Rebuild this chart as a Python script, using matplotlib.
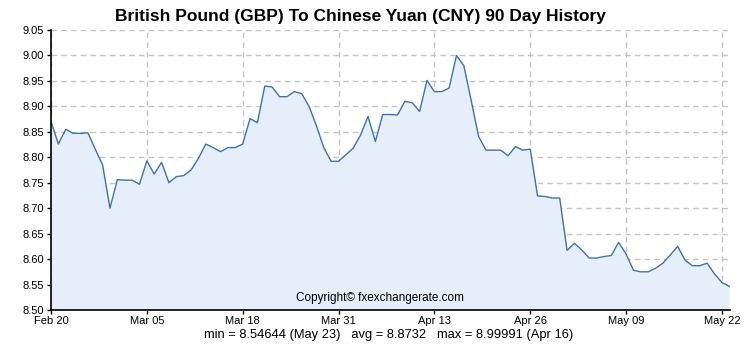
import matplotlib
matplotlib.use("Agg")
import matplotlib.pyplot as plt
import numpy as np

title = "British Pound (GBP) To Chinese Yuan (CNY) 90 Day History"
rates = [
    8.870, 8.826, 8.855, 8.847, 8.847, 8.848, 8.816, 8.785, 8.700, 8.756,
    8.755, 8.755, 8.747, 8.793, 8.767, 8.790, 8.750, 8.762, 8.764, 8.775,
    8.798, 8.826, 8.819, 8.811, 8.819, 8.819, 8.826, 8.876, 8.868, 8.940,
    8.938, 8.919, 8.919, 8.929, 8.925, 8.900, 8.862, 8.819, 8.792, 8.792,
    8.805, 8.818, 8.844, 8.880, 8.831, 8.884, 8.884, 8.883, 8.910, 8.907,
    8.890, 8.951, 8.929, 8.929, 8.936, 8.99991, 8.980, 8.911, 8.841, 8.814,
    8.814, 8.814, 8.803, 8.821, 8.814, 8.816, 8.724, 8.723, 8.720, 8.720,
    8.617, 8.631, 8.618, 8.602, 8.602, 8.605, 8.607, 8.633, 8.610, 8.578,
    8.575, 8.575, 8.582, 8.592, 8.608, 8.625, 8.598, 8.587, 8.587, 8.592,
    8.571, 8.554, 8.54644,
]
tick_days = [0, 13, 26, 39, 52, 65, 78, 91]
tick_labels = ["Feb 20", "Mar 05", "Mar 18", "Mar 31", "Apr 13", "Apr 26", "May 09", "May 22"]
y_ticks = [8.50, 8.55, 8.60, 8.65, 8.70, 8.75, 8.80, 8.85, 8.90, 8.95, 9.00, 9.05]
stats_text = "min = 8.54644 (May 23)   avg = 8.8732   max = 8.99991 (Apr 16)"
copyright_text = "Copyright\u00a9 fxexchangerate.com"

plt.rcParams['font.family'] = ['Liberation Sans', 'DejaVu Sans']

fig = plt.figure(figsize=(7.5, 3.45), dpi=100)
ax = fig.add_axes([51/750, 1 - 310/345, (730-51)/750, (310-30)/345])

days = np.arange(len(rates))
grid_kw = dict(color="#C4C4C4", linestyle=(0, (4, 3)), linewidth=1.0, zorder=1)
for v in y_ticks:
    ax.axhline(v, **grid_kw)
for d in tick_days:
    ax.axvline(d, **grid_kw)

ax.fill_between(days, rates, 8.50, color="#E6EEFA", zorder=2, linewidth=0)
ax.plot(days, rates, color="#3B73AF", linewidth=1.0, zorder=3)

ax.set_xlim(0, 92.1)
ax.set_ylim(8.50, 9.05)
ax.set_xticks(tick_days)
ax.set_xticklabels(tick_labels)
ax.set_yticks(y_ticks)
ax.set_yticklabels([f"{v:.2f}" for v in y_ticks])
ax.tick_params(axis='both', labelsize=8, length=3, width=1, color='black', pad=2)
ax.tick_params(axis='x', pad=1.5)

for s in ['top', 'right']:
    ax.spines[s].set_visible(False)
for s in ['left', 'bottom']:
    ax.spines[s].set_linewidth(1.2)
    ax.spines[s].set_zorder(5)

fig.text(360/750, 1 - 16/345, title, ha='center', va='center', fontsize=12.5, fontweight='bold')
fig.text(389/750, 1 - 335/345, stats_text, ha='center', va='center', fontsize=9.3)
fig.text(380/750, 1 - 298/345, copyright_text, ha='center', va='center', fontsize=8.5, zorder=10)

fig.savefig("out.png", dpi=100)
